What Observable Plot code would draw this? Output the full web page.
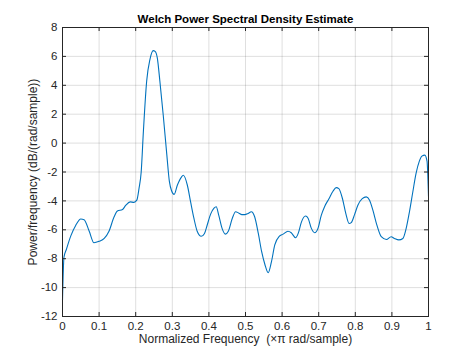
<!DOCTYPE html>
<html>
<head>
<meta charset="utf-8">
<script src="https://cdn.jsdelivr.net/npm/d3@7"></script>
<script src="https://cdn.jsdelivr.net/npm/@observablehq/plot@0.6"></script>
<style>
  html, body { margin: 0; padding: 0; background: #fff; }
  #chart svg { display: block; }
</style>
</head>
<body>
<div id="chart"></div>
<script>
const freq = [0, 0.004, 0.01, 0.023, 0.036, 0.05, 0.059, 0.073, 0.086, 0.1, 0.114, 0.127, 0.141, 0.15, 0.164, 0.173, 0.185, 0.195, 0.203, 0.209, 0.215, 0.221, 0.23, 0.239, 0.248, 0.253, 0.259, 0.266, 0.275, 0.285, 0.292, 0.298, 0.305, 0.314, 0.325, 0.33, 0.341, 0.35, 0.359, 0.368, 0.379, 0.388, 0.395, 0.405, 0.414, 0.42, 0.427, 0.436, 0.445, 0.453, 0.464, 0.473, 0.482, 0.49, 0.498, 0.507, 0.516, 0.525, 0.535, 0.544, 0.553, 0.562, 0.571, 0.58, 0.592, 0.603, 0.616, 0.625, 0.637, 0.644, 0.653, 0.664, 0.671, 0.68, 0.689, 0.698, 0.707, 0.716, 0.728, 0.739, 0.748, 0.755, 0.765, 0.774, 0.783, 0.789, 0.798, 0.807, 0.819, 0.83, 0.839, 0.848, 0.859, 0.871, 0.885, 0.898, 0.907, 0.919, 0.93, 0.939, 0.948, 0.957, 0.966, 0.975, 0.982, 0.99, 0.996, 1.0];
const psd = [-10.9, -7.9, -7.4, -6.4, -5.7, -5.25, -5.3, -6.1, -6.9, -6.8, -6.6, -6.1, -5.1, -4.7, -4.6, -4.3, -4.07, -4.1, -3.95, -3.15, -2.0, 0.8, 4.3, 5.8, 6.4, 6.35, 5.9, 4.3, 2.0, -0.8, -2.65, -3.3, -3.55, -2.9, -2.35, -2.23, -2.9, -4.07, -5.2, -6.1, -6.45, -6.25, -5.7, -4.9, -4.5, -4.4, -5.0, -5.9, -6.3, -6.1, -5.2, -4.75, -4.85, -4.95, -4.95, -4.87, -4.75, -5.1, -6.25, -7.5, -8.4, -8.97, -8.2, -7.05, -6.45, -6.3, -6.1, -6.2, -6.55, -6.25, -5.45, -5.05, -5.2, -5.9, -6.2, -5.9, -5.0, -4.4, -3.85, -3.33, -3.08, -3.15, -3.85, -4.87, -5.56, -5.5, -4.95, -4.3, -3.84, -3.72, -3.95, -4.64, -5.68, -6.48, -6.67, -6.48, -6.6, -6.7, -6.6, -5.9, -4.75, -3.4, -2.1, -1.25, -0.9, -0.83, -1.25, -3.7];
const xTicks = [0, 0.1, 0.2, 0.3, 0.4, 0.5, 0.6, 0.7, 0.8, 0.9, 1];
const yTicks = [-12, -10, -8, -6, -4, -2, 0, 2, 4, 6, 8];
const titleText = "Welch Power Spectral Density Estimate";
const xLabel = "Normalized Frequency  (\u00D7\u03C0 rad/sample)";
const yLabel = "Power/frequency (dB/(rad/sample))";

const data = freq.map((f, i) => ({f, p: psd[i]}));

const W = 474, H = 355;
const mL = 62, mR = 46, mT = 27, mB = 39;
const fw = W - mL - mR, fh = H - mT - mB;
const tk = 4;
const axisColor = "#262626";
const font = "'Liberation Sans', Arial, Helvetica, sans-serif";

const chart = Plot.plot({
  width: W,
  height: H,
  marginLeft: mL,
  marginRight: mR,
  marginTop: mT,
  marginBottom: mB,
  style: {fontFamily: font, fontSize: "11px", color: axisColor, background: "#fff"},
  x: {domain: [0, 1], ticks: xTicks},
  y: {domain: [-12, 8], ticks: yTicks},
  marks: [
    Plot.gridX(xTicks, {stroke: axisColor, strokeOpacity: 0.15}),
    Plot.gridY(yTicks, {stroke: axisColor, strokeOpacity: 0.15}),
    Plot.line(data, {x: "f", y: "p", stroke: "#0072BD", strokeWidth: 1.1, curve: "monotone-x"}),
    Plot.frame({stroke: axisColor, strokeWidth: 1}),
    Plot.tickX(xTicks, {x: d => d, insetTop: fh - tk, stroke: axisColor}),
    Plot.tickX(xTicks, {x: d => d, insetBottom: fh - tk, stroke: axisColor}),
    Plot.tickY(yTicks, {y: d => d, insetRight: fw - tk, stroke: axisColor}),
    Plot.tickY(yTicks, {y: d => d, insetLeft: fw - tk, stroke: axisColor}),
    Plot.axisX(xTicks, {tickSize: 0, tickPadding: 5, tickFormat: d => String(d), label: null, fontSize: 11.5, fill: axisColor}),
    Plot.axisY(yTicks, {tickSize: 0, tickPadding: 5, tickFormat: d => String(d), label: null, fontSize: 11.5, fill: axisColor}),
    Plot.text([titleText], {frameAnchor: "top", dy: -13, text: d => d, fontWeight: "bold", fontSize: 11.5, fill: "#000"}),
    Plot.text([xLabel], {frameAnchor: "bottom", dy: 26, text: d => d, fontSize: 12, fill: axisColor}),
    Plot.text([yLabel], {frameAnchor: "left", dx: -29, rotate: -90, textAnchor: "middle", text: d => d, fontSize: 12, fill: axisColor})
  ]
});
document.getElementById("chart").appendChild(chart);
</script>
</body>
</html>
